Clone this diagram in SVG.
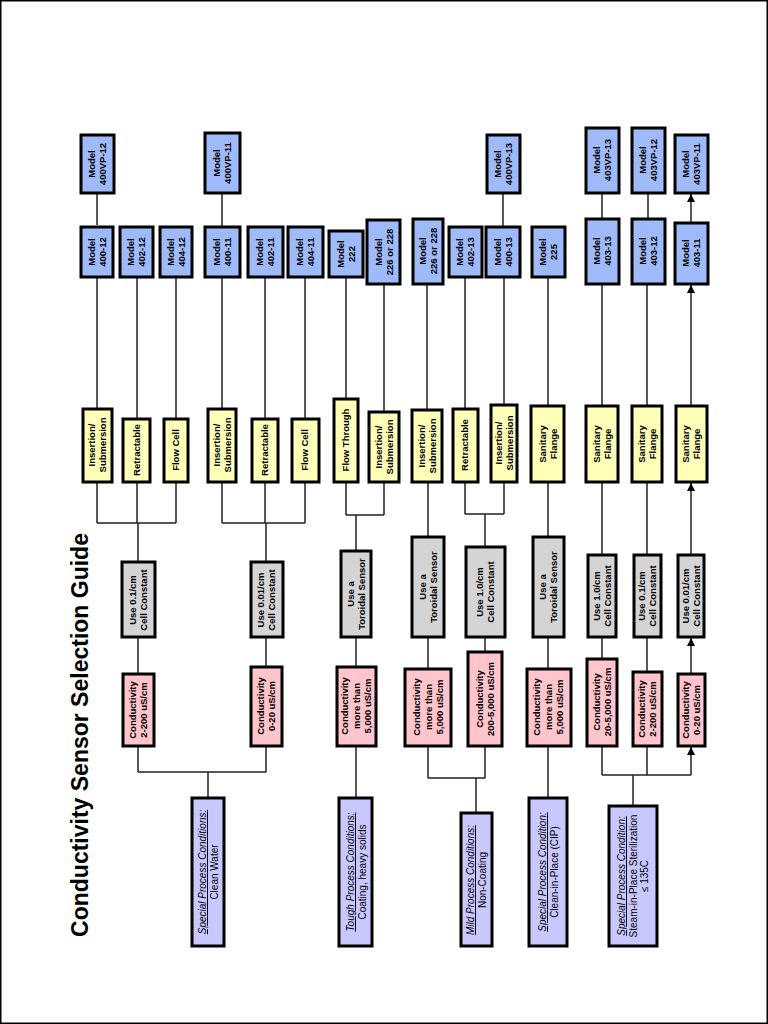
<svg xmlns="http://www.w3.org/2000/svg" width="768" height="1024" viewBox="0 0 768 1024">
<style>
rect{stroke:#000;stroke-width:3}
.c{fill:#c8c8ff}.p{fill:#ffc4cc}.g{fill:#d4d4d4}.y{fill:#ffffb8}.b{fill:#9fbaf8}
text{font-family:"Liberation Sans",Arial,sans-serif;font-weight:bold;font-size:9.5px;text-anchor:middle;fill:#000}
.h{font-size:23px}
.cn{font-weight:normal;font-size:10px}
.it{font-style:italic;text-decoration:underline}
#conn path{fill:none;stroke:#222;stroke-width:1.5}
</style>
<defs><marker id="a" viewBox="0 0 10 10" refX="10" refY="5" markerWidth="8" markerHeight="8" markerUnits="userSpaceOnUse" orient="auto"><path d="M0,0L10,5L0,10z" fill="#000"/></marker></defs>
<rect width="768" height="1024" fill="#fff" stroke="none"/>
<text class="h" transform="rotate(-90 80 735)" x="80" y="743">Conductivity Sensor Selection Guide</text>
<g id="conn">
<path d="M208,798V772M138,772H266M356,798V747M476,813V778M428,778H485M548,798V747M633,806V775M602,775H691"/>
<path marker-end="url(#a)" d="M138,772V747M266,772V747M428,778V747M485,778V747M602,775V747M647,775V747M691,775V747"/>
<path marker-end="url(#a)" d="M138,674V638M266,667V638M356,667V638M428,669V638M485,652V638M548,669V638M602,659V638M647,672V638M691,674V638"/>
<path d="M138,562V523M97,523H176M266,562V523M222,523H305M356,551V515M346,515H384M485,547V514M465,514H504"/>
<path marker-end="url(#a)" d="M97,523V483M137,523V483M176,523V483M222,523V483M265,523V483M305,523V483M346,515V483M384,515V483M428,537V483M465,514V483M504,514V483M548,537V483M602,555V483M647,555V483M691,555V483"/>
<path marker-end="url(#a)" d="M97,409V278M137,419V278M176,419V278M222,409V278M265,419V278M305,419V278M346,399V278M384,412V285M427,410V285M465,409V278M504,405V278M548,406V278M602,406V285M647,406V285M691,406V285"/>
<path marker-end="url(#a)" d="M97,225V194M222,227V194M503,227V194M602,219V194M648,219V194M691,223V194"/>
</g>
<g id="cond_clean"><rect class="c" x="192" y="798" width="32" height="148"/><text class="cn" transform="rotate(-90 208 872)"><tspan class="it" x="208" y="870">Special Process Conditions:</tspan><tspan x="208" y="882">Clean Water</tspan></text></g>
<g id="cond_tough"><rect class="c" x="339" y="798" width="33" height="148"/><text class="cn" transform="rotate(-90 356 872)"><tspan class="it" x="356" y="870">Tough Process Conditions:</tspan><tspan x="356" y="882">Coating, heavy solids</tspan></text></g>
<g id="cond_mild"><rect class="c" x="461" y="813" width="31" height="133"/><text class="cn" transform="rotate(-90 476 880)"><tspan class="it" x="476" y="878">Mild Process Conditions:</tspan><tspan x="476" y="890">Non-Coating</tspan></text></g>
<g id="cond_cip"><rect class="c" x="529" y="798" width="38" height="148"/><text class="cn" transform="rotate(-90 548 872)"><tspan class="it" x="548" y="870">Special Process Condition:</tspan><tspan x="548" y="882">Clean-in-Place (CIP)</tspan></text></g>
<g id="cond_sip"><rect class="c" x="609" y="806" width="48" height="140"/><text class="cn" transform="rotate(-90 633 876)"><tspan class="it" x="633" y="868">Special Process Condition:</tspan><tspan x="633" y="879.5">Steam-in-Place Sterilization</tspan><tspan x="633" y="891">≤ 135C</tspan></text></g>

<g id="p1"><rect class="p" x="123" y="674" width="31" height="72"/><text transform="rotate(-90 138 710)"><tspan x="138" y="708">Conductivity</tspan><tspan x="138" y="719">2-200 uS/cm</tspan></text></g>
<g id="p2"><rect class="p" x="251" y="667" width="31" height="79"/><text transform="rotate(-90 266 706)"><tspan x="266" y="704">Conductivity</tspan><tspan x="266" y="715">0-20 uS/cm</tspan></text></g>
<g id="p3"><rect class="p" x="337" y="667" width="39" height="79"/><text transform="rotate(-90 356 706)"><tspan x="356" y="698">Conductivity</tspan><tspan x="356" y="709.5">more than</tspan><tspan x="356" y="721">5,000 uS/cm</tspan></text></g>
<g id="p4"><rect class="p" x="405" y="669" width="46" height="77"/><text transform="rotate(-90 428 707)"><tspan x="428" y="699">Conductivity</tspan><tspan x="428" y="710.5">more than</tspan><tspan x="428" y="722">5,000 uS/cm</tspan></text></g>
<g id="p5"><rect class="p" x="468" y="652" width="34" height="94"/><text transform="rotate(-90 485 699)"><tspan x="485" y="697">Conductivity</tspan><tspan x="485" y="708">200-5,000 uS/cm</tspan></text></g>
<g id="p6"><rect class="p" x="527" y="669" width="44" height="77"/><text transform="rotate(-90 548 707)"><tspan x="548" y="699">Conductivity</tspan><tspan x="548" y="710.5">more than</tspan><tspan x="548" y="722">5,000 uS/cm</tspan></text></g>
<g id="p7"><rect class="p" x="587" y="659" width="30" height="87"/><text transform="rotate(-90 602 702)"><tspan x="602" y="700">Conductivity</tspan><tspan x="602" y="711">20-5,000 uS/cm</tspan></text></g>
<g id="p8"><rect class="p" x="633" y="672" width="29" height="74"/><text transform="rotate(-90 647 709)"><tspan x="647" y="707">Conductivity</tspan><tspan x="647" y="718">2-200 uS/cm</tspan></text></g>
<g id="p9"><rect class="p" x="678" y="674" width="27" height="72"/><text transform="rotate(-90 691 710)"><tspan x="691" y="708">Conductivity</tspan><tspan x="691" y="719">0-20 uS/cm</tspan></text></g>

<g id="g1"><rect class="g" x="122" y="562" width="33" height="75"/><text transform="rotate(-90 138 600)"><tspan x="138" y="598">Use 0.1/cm</tspan><tspan x="138" y="609">Cell Constant</tspan></text></g>
<g id="g2"><rect class="g" x="251" y="562" width="32" height="75"/><text transform="rotate(-90 266 600)"><tspan x="266" y="598">Use 0.01/cm</tspan><tspan x="266" y="609">Cell Constant</tspan></text></g>
<g id="g3"><rect class="g" x="341" y="551" width="30" height="86"/><text transform="rotate(-90 356 594)"><tspan x="356" y="592">Use a</tspan><tspan x="356" y="603">Toroidal Sensor</tspan></text></g>
<g id="g4"><rect class="g" x="412" y="537" width="32" height="100"/><text transform="rotate(-90 428 587)"><tspan x="428" y="585">Use a</tspan><tspan x="428" y="596">Toroidal Sensor</tspan></text></g>
<g id="g5"><rect class="g" x="466" y="547" width="39" height="90"/><text transform="rotate(-90 485 592)"><tspan x="485" y="590">Use 1.0/cm</tspan><tspan x="485" y="601">Cell Constant</tspan></text></g>
<g id="g6"><rect class="g" x="533" y="537" width="31" height="100"/><text transform="rotate(-90 548 587)"><tspan x="548" y="585">Use a</tspan><tspan x="548" y="596">Toroidal Sensor</tspan></text></g>
<g id="g7"><rect class="g" x="588" y="555" width="28" height="82"/><text transform="rotate(-90 602 596)"><tspan x="602" y="594">Use 1.0/cm</tspan><tspan x="602" y="605">Cell Constant</tspan></text></g>
<g id="g8"><rect class="g" x="634" y="555" width="27" height="82"/><text transform="rotate(-90 647 596)"><tspan x="647" y="594">Use 0.1/cm</tspan><tspan x="647" y="605">Cell Constant</tspan></text></g>
<g id="g9"><rect class="g" x="678" y="555" width="26" height="82"/><text transform="rotate(-90 691 596)"><tspan x="691" y="594">Use 0.01/cm</tspan><tspan x="691" y="605">Cell Constant</tspan></text></g>

<g id="y1"><rect class="y" x="83" y="409" width="29" height="73"/><text transform="rotate(-90 97 445)"><tspan x="97" y="443">Insertion/</tspan><tspan x="97" y="454">Submersion</tspan></text></g>
<g id="y2"><rect class="y" x="123" y="419" width="27" height="63"/><text transform="rotate(-90 137 450)" x="137" y="453">Retractable</text></g>
<g id="y3"><rect class="y" x="164" y="419" width="24" height="63"/><text transform="rotate(-90 176 450)" x="176" y="453">Flow Cell</text></g>
<g id="y4"><rect class="y" x="208" y="409" width="28" height="73"/><text transform="rotate(-90 222 445)"><tspan x="222" y="443">Insertion/</tspan><tspan x="222" y="454">Submersion</tspan></text></g>
<g id="y5"><rect class="y" x="252" y="419" width="26" height="63"/><text transform="rotate(-90 265 450)" x="265" y="453">Retractable</text></g>
<g id="y6"><rect class="y" x="292" y="419" width="27" height="63"/><text transform="rotate(-90 305 450)" x="305" y="453">Flow Cell</text></g>
<g id="y7"><rect class="y" x="334" y="399" width="24" height="83"/><text transform="rotate(-90 346 440)" x="346" y="443">Flow Through</text></g>
<g id="y8"><rect class="y" x="369" y="412" width="30" height="70"/><text transform="rotate(-90 384 447)"><tspan x="384" y="445">Insertion/</tspan><tspan x="384" y="456">Submersion</tspan></text></g>
<g id="y9"><rect class="y" x="412" y="410" width="30" height="72"/><text transform="rotate(-90 427 446)"><tspan x="427" y="444">Insertion/</tspan><tspan x="427" y="455">Submersion</tspan></text></g>
<g id="y10"><rect class="y" x="453" y="409" width="25" height="73"/><text transform="rotate(-90 465 445)" x="465" y="448">Retractable</text></g>
<g id="y11"><rect class="y" x="491" y="405" width="26" height="77"/><text transform="rotate(-90 504 443)"><tspan x="504" y="441">Insertion/</tspan><tspan x="504" y="452">Submersion</tspan></text></g>
<g id="y12"><rect class="y" x="531" y="406" width="33" height="76"/><text transform="rotate(-90 548 444)"><tspan x="548" y="442">Sanitary</tspan><tspan x="548" y="453">Flange</tspan></text></g>
<g id="y13"><rect class="y" x="586" y="406" width="32" height="76"/><text transform="rotate(-90 602 444)"><tspan x="602" y="442">Sanitary</tspan><tspan x="602" y="453">Flange</tspan></text></g>
<g id="y14"><rect class="y" x="632" y="406" width="30" height="76"/><text transform="rotate(-90 647 444)"><tspan x="647" y="442">Sanitary</tspan><tspan x="647" y="453">Flange</tspan></text></g>
<g id="y15"><rect class="y" x="676" y="406" width="31" height="76"/><text transform="rotate(-90 691 444)"><tspan x="691" y="442">Sanitary</tspan><tspan x="691" y="453">Flange</tspan></text></g>

<g id="m1"><rect class="b" x="81" y="227" width="32" height="50"/><text transform="rotate(-90 97 252)"><tspan x="97" y="250">Model</tspan><tspan x="97" y="261">400-12</tspan></text></g>
<g id="m2"><rect class="b" x="120" y="227" width="33" height="50"/><text transform="rotate(-90 136 252)"><tspan x="136" y="250">Model</tspan><tspan x="136" y="261">402-12</tspan></text></g>
<g id="m3"><rect class="b" x="160" y="227" width="32" height="50"/><text transform="rotate(-90 176 252)"><tspan x="176" y="250">Model</tspan><tspan x="176" y="261">404-12</tspan></text></g>
<g id="m4"><rect class="b" x="205" y="227" width="35" height="50"/><text transform="rotate(-90 222 252)"><tspan x="222" y="250">Model</tspan><tspan x="222" y="261">400-11</tspan></text></g>
<g id="m5"><rect class="b" x="248" y="227" width="35" height="50"/><text transform="rotate(-90 265 252)"><tspan x="265" y="250">Model</tspan><tspan x="265" y="261">402-11</tspan></text></g>
<g id="m6"><rect class="b" x="288" y="227" width="35" height="50"/><text transform="rotate(-90 305 252)"><tspan x="305" y="250">Model</tspan><tspan x="305" y="261">404-11</tspan></text></g>
<g id="m7"><rect class="b" x="329" y="231" width="34" height="46"/><text transform="rotate(-90 346 254)"><tspan x="346" y="252">Model</tspan><tspan x="346" y="263">222</tspan></text></g>
<g id="m8"><rect class="b" x="367" y="220" width="33" height="64"/><text transform="rotate(-90 384 252)"><tspan x="384" y="250">Model</tspan><tspan x="384" y="261">226 or 228</tspan></text></g>
<g id="m9"><rect class="b" x="413" y="219" width="30" height="65"/><text transform="rotate(-90 428 251)"><tspan x="428" y="249">Model</tspan><tspan x="428" y="260">226 or 228</tspan></text></g>
<g id="m10"><rect class="b" x="449" y="227" width="33" height="50"/><text transform="rotate(-90 465 252)"><tspan x="465" y="250">Model</tspan><tspan x="465" y="261">402-13</tspan></text></g>
<g id="m11"><rect class="b" x="486" y="227" width="34" height="50"/><text transform="rotate(-90 503 252)"><tspan x="503" y="250">Model</tspan><tspan x="503" y="261">400-13</tspan></text></g>
<g id="m12"><rect class="b" x="532" y="227" width="33" height="50"/><text transform="rotate(-90 548 252)"><tspan x="548" y="250">Model</tspan><tspan x="548" y="261">225</tspan></text></g>
<g id="m13"><rect class="b" x="586" y="219" width="33" height="65"/><text transform="rotate(-90 602 251)"><tspan x="602" y="249">Model</tspan><tspan x="602" y="260">403-13</tspan></text></g>
<g id="m14"><rect class="b" x="632" y="219" width="33" height="65"/><text transform="rotate(-90 648 251)"><tspan x="648" y="249">Model</tspan><tspan x="648" y="260">403-12</tspan></text></g>
<g id="m15"><rect class="b" x="675" y="223" width="33" height="61"/><text transform="rotate(-90 691 253)"><tspan x="691" y="251">Model</tspan><tspan x="691" y="262">403-11</tspan></text></g>

<g id="v1"><rect class="b" x="81" y="135" width="33" height="58"/><text transform="rotate(-90 97 164)"><tspan x="97" y="162">Model</tspan><tspan x="97" y="173">400VP-12</tspan></text></g>
<g id="v2"><rect class="b" x="205" y="133" width="35" height="60"/><text transform="rotate(-90 222 163)"><tspan x="222" y="161">Model</tspan><tspan x="222" y="172">400VP-11</tspan></text></g>
<g id="v3"><rect class="b" x="487" y="135" width="33" height="58"/><text transform="rotate(-90 503 164)"><tspan x="503" y="162">Model</tspan><tspan x="503" y="173">400VP-13</tspan></text></g>
<g id="v4"><rect class="b" x="586" y="128" width="33" height="65"/><text transform="rotate(-90 602 160)"><tspan x="602" y="158">Model</tspan><tspan x="602" y="169">403VP-13</tspan></text></g>
<g id="v5"><rect class="b" x="632" y="128" width="33" height="65"/><text transform="rotate(-90 648 160)"><tspan x="648" y="158">Model</tspan><tspan x="648" y="169">403VP-12</tspan></text></g>
<g id="v6"><rect class="b" x="675" y="135" width="33" height="58"/><text transform="rotate(-90 691 164)"><tspan x="691" y="162">Model</tspan><tspan x="691" y="173">403VP-11</tspan></text></g>
</svg>
